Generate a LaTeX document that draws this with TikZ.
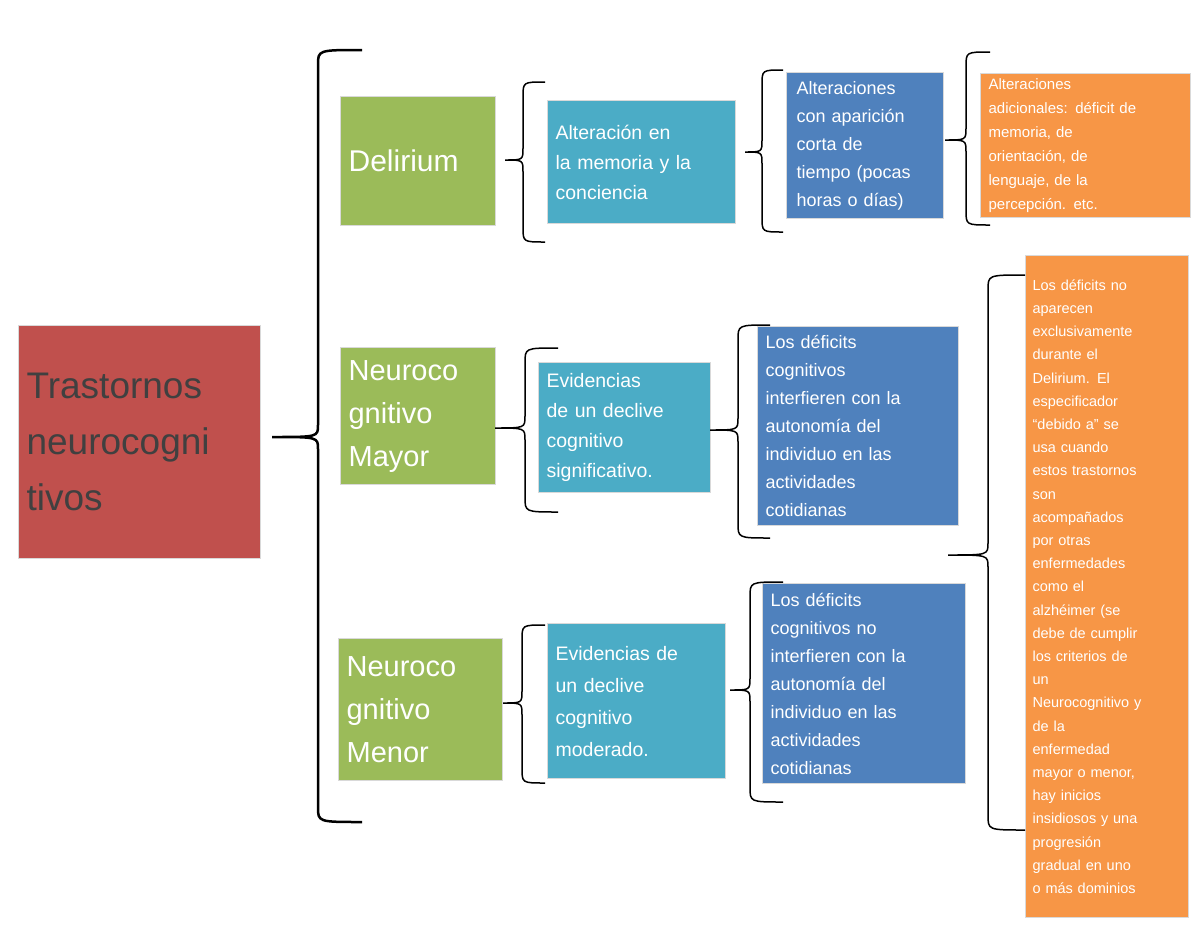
\documentclass[tikz,border=0pt]{standalone}
\usepackage{fontspec}
\setmainfont{Liberation Sans}
\definecolor{cred}{HTML}{C0504D}
\definecolor{cgreen}{HTML}{9BBB59}
\definecolor{ccyan}{HTML}{4BACC6}
\definecolor{cblue}{HTML}{4F81BD}
\definecolor{corange}{HTML}{F79646}
\newcommand\J[1]{\makebox[\linewidth][s]{#1}}
% tip x, vertical x, end x, top y, mid y, bottom y, width
\newcommand\brc[7]{\draw[line width=#7] (#3,#4) .. controls (#2,#4) .. (#2,#4+15) -- (#2,#5-12) .. controls (#2,#5) .. (#1,#5) .. controls (#2,#5) .. (#2,#5+12) -- (#2,#6-15) .. controls (#2,#6) .. (#3,#6);}
\begin{document}
\begin{tikzpicture}[x=1pt,y=-1pt,
 box/.style={draw=gray!30,line width=1.2pt,anchor=north west,inner xsep=8pt,inner ysep=4pt,align=left,text=white},
 bx/.style n args={4}{box,minimum width=#3-#1,minimum height=#4-#2,text width=#3-#1-16}]
\useasboundingbox (0,0) rectangle (1200,927);
\fill[white] (0,0) rectangle (1200,927);
\node[bx={18}{325}{260}{558},fill=cred,text=black!75,font=\fontsize{37}{56}\selectfont] (tr) at (18,325) {Trastornos\\neurocogni\\tivos};
\node[bx={340}{96}{495}{225},fill=cgreen,font=\fontsize{30}{43}\selectfont] (del) at (340,96) {Delirium\\[14pt]};
\node[bx={340}{347}{495}{484},fill=cgreen,font=\fontsize{29}{43}\selectfont] (may) at (340,347) {Neuroco\\gnitivo\\Mayor};
\node[bx={338}{638}{502}{780},fill=cgreen,font=\fontsize{29}{43}\selectfont] (men) at (338,638) {Neuroco\\gnitivo\\Menor};
\node[bx={547}{100}{735}{223},fill=ccyan,font=\fontsize{19.5}{30}\selectfont] (alt) at (547,100) {\J{Alteración en}\\\J{la memoria y la}\\conciencia\\[8pt]};
\node[bx={538}{362}{710}{492},fill=ccyan,font=\fontsize{19.5}{30}\selectfont] (evm) at (538,362) {Evidencias\\\J{de un declive}\\cognitivo\\significativo.};
\node[bx={547}{623}{725}{778},fill=ccyan,font=\fontsize{19.5}{32}\selectfont] (evn) at (547,623) {\J{Evidencias de}\\\J{un declive}\\cognitivo\\moderado.\\[6pt]};
\node[bx={786}{72}{943}{218},fill=cblue,inner xsep=10pt,text width=137,font=\fontsize{18}{28}\selectfont] (bt) at (786,72) {Alteraciones\\\J{con aparición}\\\J{corta de}\\\J{tiempo (pocas}\\horas o días)};
\node[bx={757}{326}{958}{525},fill=cblue,font=\fontsize{18}{28}\selectfont] (bm) at (757,326) {\J{Los déficits}\\cognitivos\\\J{interfieren con la}\\\J{autonomía del}\\\J{individuo en las}\\actividades\\cotidianas};
\node[bx={762}{583}{965}{783},fill=cblue,font=\fontsize{18}{28}\selectfont] (bb) at (762,583) {\J{Los déficits}\\\J{cognitivos no}\\\J{interfieren con la}\\\J{autonomía del}\\\J{individuo en las}\\actividades\\cotidianas};
\node[bx={980}{73}{1190}{217},fill=corange,font=\fontsize{15}{24}\selectfont] (ot) at (980,73) {Alteraciones\\\J{adicionales: déficit de}\\\J{memoria, de}\\\J{orientación, de}\\\J{lenguaje, de la}\\percepción. etc.};
\node[bx={1025}{255}{1188}{917},fill=corange,inner xsep=7pt,text width=149,font=\fontsize{14.5}{23.2}\selectfont] (ol) at (1025,255) {\J{Los déficits no}\\aparecen\\exclusivamente\\\J{durante el}\\\J{Delirium. El}\\especificador\\\J{“debido a” se}\\\J{usa cuando}\\\J{estos trastornos}\\son\\acompañados\\\J{por otras}\\enfermedades\\\J{como el}\\\J{alzhéimer (se}\\\J{debe de cumplir}\\\J{los criterios de}\\un\\\J{Neurocognitivo y}\\\J{de la}\\enfermedad\\\J{mayor o menor,}\\\J{hay inicios}\\\J{insidiosos y una}\\progresión\\\J{gradual en uno}\\o más dominios};
\brc{272}{318}{362}{50}{437}{822}{2.5pt}
\brc{505}{523}{545}{82}{160}{242}{1.5pt}
\brc{495}{525}{558}{348}{428}{512}{1.5pt}
\brc{503}{522}{545}{625}{703}{783}{1.5pt}
\brc{745}{762}{783}{70}{152}{232}{1.5pt}
\brc{710}{738}{770}{325}{430}{538}{1.5pt}
\brc{730}{750}{783}{582}{690}{802}{1.5pt}
\brc{945}{966}{990}{52}{140}{225}{1.5pt}
\brc{948}{988}{1025}{275}{555}{830}{1.5pt}
\end{tikzpicture}
\end{document}
